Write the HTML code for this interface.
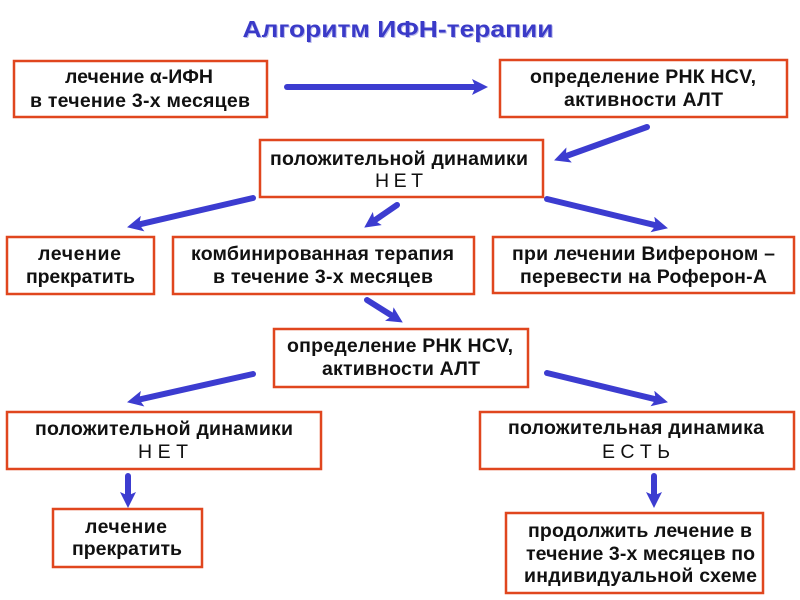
<!DOCTYPE html>
<html>
<head>
<meta charset="utf-8">
<style>
  html, body { margin: 0; padding: 0; background: #ffffff; }
  svg { display: block; }
  .t { font-family: "Liberation Sans", "DejaVu Sans", sans-serif; font-weight: bold; font-size: 19.5px; fill: #111111; }
  .n { font-family: "Liberation Sans", "DejaVu Sans", sans-serif; font-weight: normal; font-size: 19.5px; fill: #111111; }
  .title { font-family: "Liberation Sans", "DejaVu Sans", sans-serif; font-weight: bold; font-size: 23.5px; fill: #3a3ac8; }
  .box { fill: #ffffff; stroke: #e0461e; stroke-width: 2.5; }
  .ar { stroke: #3c3cd0; stroke-width: 6; fill: none; stroke-linecap: round; }
</style>
</head>
<body>
<svg width="800" height="600" viewBox="0 0 800 600" xmlns="http://www.w3.org/2000/svg">
  <defs>
    <marker id="ah" viewBox="0 0 16 16" markerWidth="16" markerHeight="16" markerUnits="userSpaceOnUse" refX="3" refY="8" orient="auto">
      <path d="M0,0 L16,8 L0,16 L3.5,8 z" fill="#3c3cd0"/>
    </marker>
  </defs>

  <!-- Title -->
  <text class="title" x="398" y="37" text-anchor="middle" textLength="311" lengthAdjust="spacingAndGlyphs" fill="#9a9ad8" transform="translate(1,1)" opacity="0.35">Алгоритм ИФН-терапии</text>
  <text class="title" x="398" y="37" text-anchor="middle" textLength="311" lengthAdjust="spacingAndGlyphs">Алгоритм ИФН-терапии</text>

  <!-- Boxes -->
  <rect class="box" x="14" y="61" width="253" height="56"/>
  <rect class="box" x="500" y="60" width="287" height="57"/>
  <rect class="box" x="260" y="140" width="283" height="57"/>
  <rect class="box" x="7" y="237" width="147" height="57"/>
  <rect class="box" x="173" y="237" width="301" height="57"/>
  <rect class="box" x="493" y="237" width="301" height="56"/>
  <rect class="box" x="274" y="329" width="254" height="58"/>
  <rect class="box" x="7" y="412" width="314" height="57"/>
  <rect class="box" x="480" y="412" width="314" height="57"/>
  <rect class="box" x="53" y="509" width="149" height="58"/>
  <rect class="box" x="506" y="513" width="257" height="80"/>

  <!-- Arrows -->
  <line class="ar" x1="287" y1="87" x2="475" y2="87" marker-end="url(#ah)"/>
  <line class="ar" x1="647" y1="127" x2="566.3" y2="156" marker-end="url(#ah)"/>
  <line class="ar" x1="253" y1="198" x2="139.7" y2="224.3" marker-end="url(#ah)"/>
  <line class="ar" x1="397" y1="205" x2="374.9" y2="220.2" marker-end="url(#ah)"/>
  <line class="ar" x1="547" y1="199" x2="655.3" y2="225.2" marker-end="url(#ah)"/>
  <line class="ar" x1="367" y1="300" x2="391.8" y2="315.6" marker-end="url(#ah)"/>
  <line class="ar" x1="253" y1="374" x2="139.7" y2="399.4" marker-end="url(#ah)"/>
  <line class="ar" x1="547" y1="373" x2="655.3" y2="399.2" marker-end="url(#ah)"/>
  <line class="ar" x1="128" y1="476" x2="128" y2="495" marker-end="url(#ah)"/>
  <line class="ar" x1="654" y1="476" x2="654" y2="495" marker-end="url(#ah)"/>

  <!-- Texts -->
  <text class="t" x="139" y="83" text-anchor="middle" textLength="148" lengthAdjust="spacing">лечение α-ИФН</text>
  <text class="t" x="140" y="107" text-anchor="middle" textLength="220" lengthAdjust="spacing">в течение 3-х месяцев</text>

  <text class="t" x="643" y="83" text-anchor="middle" textLength="226" lengthAdjust="spacing">определение РНК HCV,</text>
  <text class="t" x="643.5" y="106" text-anchor="middle" textLength="159" lengthAdjust="spacing">активности АЛТ</text>

  <text class="t" x="399" y="165" text-anchor="middle" textLength="258" lengthAdjust="spacing">положительной динамики</text>
  <text class="n" x="399" y="187" text-anchor="middle" textLength="48" lengthAdjust="spacing">Н Е Т</text>

  <text class="t" x="79.5" y="260" text-anchor="middle" textLength="83" lengthAdjust="spacing">лечение</text>
  <text class="t" x="80.5" y="283" text-anchor="middle" textLength="109" lengthAdjust="spacing">прекратить</text>

  <text class="t" x="322.5" y="260" text-anchor="middle" textLength="263" lengthAdjust="spacing">комбинированная терапия</text>
  <text class="t" x="323" y="283" text-anchor="middle" textLength="220" lengthAdjust="spacing">в течение 3-х месяцев</text>

  <text class="t" x="643.5" y="260" text-anchor="middle" textLength="263" lengthAdjust="spacing">при лечении Вифероном –</text>
  <text class="t" x="643.5" y="283" text-anchor="middle" textLength="247" lengthAdjust="spacing">перевести на Роферон-А</text>

  <text class="t" x="400" y="352" text-anchor="middle" textLength="226" lengthAdjust="spacing">определение РНК HCV,</text>
  <text class="t" x="401" y="375" text-anchor="middle" textLength="158" lengthAdjust="spacing">активности АЛТ</text>

  <text class="t" x="164" y="435" text-anchor="middle" textLength="258" lengthAdjust="spacing">положительной динамики</text>
  <text class="n" x="163" y="458" text-anchor="middle" textLength="50" lengthAdjust="spacing">Н Е Т</text>

  <text class="t" x="636" y="434" text-anchor="middle" textLength="256" lengthAdjust="spacing">положительная динамика</text>
  <text class="n" x="636" y="458" text-anchor="middle" textLength="68" lengthAdjust="spacing">Е С Т Ь</text>

  <text class="t" x="126" y="533" text-anchor="middle" textLength="82" lengthAdjust="spacing">лечение</text>
  <text class="t" x="127" y="555" text-anchor="middle" textLength="110" lengthAdjust="spacing">прекратить</text>

  <text class="t" x="640" y="537" text-anchor="middle" textLength="224" lengthAdjust="spacing">продолжить лечение в</text>
  <text class="t" x="640.5" y="560" text-anchor="middle" textLength="229" lengthAdjust="spacing">течение 3-х месяцев по</text>
  <text class="t" x="640.5" y="582" text-anchor="middle" textLength="233" lengthAdjust="spacing">индивидуальной схеме</text>
</svg>
</body>
</html>
